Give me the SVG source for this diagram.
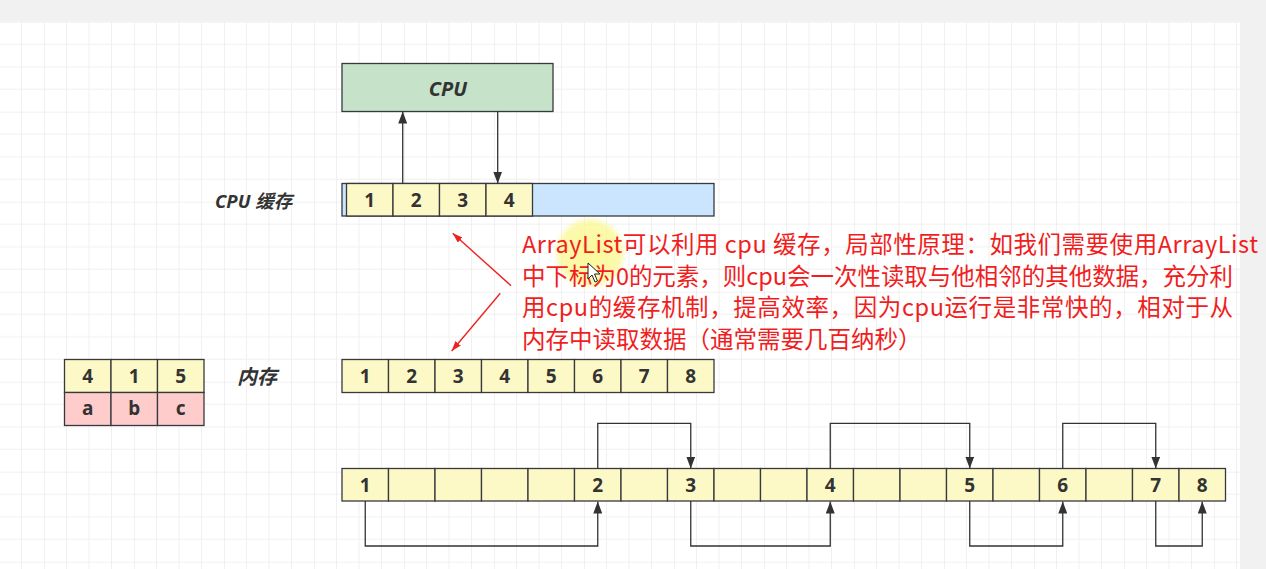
<svg xmlns="http://www.w3.org/2000/svg" width="1266" height="569" viewBox="0 0 1266 569">
<style>
.box{stroke:#36393d;stroke-width:1.3}
.y{fill:#fdf9c6}
.p{fill:#ffcccc}
.num{font-family:"Noto Sans","Liberation Sans",sans-serif;font-weight:700;font-size:19px;fill:#333333;text-anchor:middle;dominant-baseline:central}
.lbl{font-family:"Noto Sans","Noto Sans CJK SC",sans-serif;font-weight:700;font-style:italic;font-size:18.5px;fill:#333333}
.con{fill:none;stroke:#333333;stroke-width:1.3;marker-end:url(#ah)}
.red{fill:none;stroke:#ee2222;stroke-width:1.4;marker-end:url(#rh)}
.note{font-family:"Noto Sans CJK SC","Noto Sans",sans-serif;font-size:23.5px;fill:#f01e1e}
</style>
<defs>
<pattern id="grid" x="44" y="21.7" width="90" height="90" patternUnits="userSpaceOnUse">
<path d="M22.5 0V90M45 0V90M67.5 0V90M0 22.5H90M0 45H90M0 67.5H90" stroke="#f0f0f0" stroke-width="1" fill="none"/>
<path d="M0 0V90M0 0H90" stroke="#e4e4e4" stroke-width="1" fill="none"/>
</pattern>
<marker id="ah" markerUnits="userSpaceOnUse" markerWidth="12" markerHeight="9" refX="12" refY="4.5" orient="auto">
<path d="M0 0L12 4.5L0 9Z" fill="#333333"/>
</marker>
<marker id="rh" markerUnits="userSpaceOnUse" markerWidth="10" markerHeight="7" refX="10" refY="3.5" orient="auto">
<path d="M0 0L10 3.5L0 7Z" fill="#ee2222"/>
</marker>
<radialGradient id="hl" cx="0.5" cy="0.5" r="0.5">
<stop offset="0" stop-color="#fbf78a" stop-opacity="0.85"/>
<stop offset="0.8" stop-color="#fbf78a" stop-opacity="0.7"/>
<stop offset="1" stop-color="#fbf78a" stop-opacity="0"/>
</radialGradient>
</defs>

<rect x="0" y="0" width="1266" height="569" fill="#f1f1f1"/>
<rect x="0" y="21.7" width="1240" height="548" fill="#ffffff"/>
<rect x="0" y="21.7" width="1240" height="548" fill="url(#grid)"/>

<g id="cpu">
<rect class="box" x="342" y="63.5" width="211" height="48" fill="#c6e2c9"/>
<text x="448" y="88" class="lbl" style="font-size:20px" text-anchor="middle" dominant-baseline="central">CPU</text>
</g>

<g id="cpu-cache-label">
<text x="215" y="208" class="lbl">CPU 缓存</text>
</g>

<g id="cpu-cache">
<rect class="box" x="342" y="183.5" width="372" height="32.5" fill="#cce5ff"/>
<rect class="box y" x="346.5" y="183.5" width="46.5" height="32.5"/>
<rect class="box y" x="393" y="183.5" width="46.5" height="32.5"/>
<rect class="box y" x="439.5" y="183.5" width="46.5" height="32.5"/>
<rect class="box y" x="486" y="183.5" width="46.5" height="32.5"/>
<text class="num" x="369.75" y="200">1</text>
<text class="num" x="416.25" y="200">2</text>
<text class="num" x="462.75" y="200">3</text>
<text class="num" x="509.25" y="200">4</text>
</g>

<g id="memory-label">
<text x="237" y="384" class="lbl" style="font-size:20px">内存</text>
</g>

<g id="memory">
<rect class="box y" x="342" y="359.5" width="46.5" height="33"/>
<rect class="box y" x="388.5" y="359.5" width="46.5" height="33"/>
<rect class="box y" x="435" y="359.5" width="46.5" height="33"/>
<rect class="box y" x="481.5" y="359.5" width="46.5" height="33"/>
<rect class="box y" x="528" y="359.5" width="46.5" height="33"/>
<rect class="box y" x="574.5" y="359.5" width="46.5" height="33"/>
<rect class="box y" x="621" y="359.5" width="46.5" height="33"/>
<rect class="box y" x="667.5" y="359.5" width="46.5" height="33"/>
<text class="num" x="365.25" y="376">1</text>
<text class="num" x="411.75" y="376">2</text>
<text class="num" x="458.25" y="376">3</text>
<text class="num" x="504.75" y="376">4</text>
<text class="num" x="551.25" y="376">5</text>
<text class="num" x="597.75" y="376">6</text>
<text class="num" x="644.25" y="376">7</text>
<text class="num" x="690.75" y="376">8</text>
</g>

<g id="map-table">
<rect class="box y" x="64.5" y="359.5" width="46.5" height="33"/>
<rect class="box y" x="111" y="359.5" width="46.5" height="33"/>
<rect class="box y" x="157.5" y="359.5" width="46.5" height="33"/>
<rect class="box p" x="64.5" y="392.5" width="46.5" height="33"/>
<rect class="box p" x="111" y="392.5" width="46.5" height="33"/>
<rect class="box p" x="157.5" y="392.5" width="46.5" height="33"/>
<text class="num" x="87.75" y="376">4</text>
<text class="num" x="134.25" y="376">1</text>
<text class="num" x="180.75" y="376">5</text>
<text class="num" x="87.75" y="408">a</text>
<text class="num" x="134.25" y="408">b</text>
<text class="num" x="180.75" y="408">c</text>
</g>

<g id="linked-memory">
<rect class="box y" x="342" y="468.5" width="46.5" height="32.5"/>
<rect class="box y" x="388.5" y="468.5" width="46.5" height="32.5"/>
<rect class="box y" x="435" y="468.5" width="46.5" height="32.5"/>
<rect class="box y" x="481.5" y="468.5" width="46.5" height="32.5"/>
<rect class="box y" x="528" y="468.5" width="46.5" height="32.5"/>
<rect class="box y" x="574.5" y="468.5" width="46.5" height="32.5"/>
<rect class="box y" x="621" y="468.5" width="46.5" height="32.5"/>
<rect class="box y" x="667.5" y="468.5" width="46.5" height="32.5"/>
<rect class="box y" x="714" y="468.5" width="46.5" height="32.5"/>
<rect class="box y" x="760.5" y="468.5" width="46.5" height="32.5"/>
<rect class="box y" x="807" y="468.5" width="46.5" height="32.5"/>
<rect class="box y" x="853.5" y="468.5" width="46.5" height="32.5"/>
<rect class="box y" x="900" y="468.5" width="46.5" height="32.5"/>
<rect class="box y" x="946.5" y="468.5" width="46.5" height="32.5"/>
<rect class="box y" x="993" y="468.5" width="46.5" height="32.5"/>
<rect class="box y" x="1039.5" y="468.5" width="46.5" height="32.5"/>
<rect class="box y" x="1086" y="468.5" width="46.5" height="32.5"/>
<rect class="box y" x="1132.5" y="468.5" width="46.5" height="32.5"/>
<rect class="box y" x="1179" y="468.5" width="46.5" height="32.5"/>
<text class="num" x="365.25" y="485">1</text>
<text class="num" x="597.75" y="485">2</text>
<text class="num" x="690.75" y="485">3</text>
<text class="num" x="830.25" y="485">4</text>
<text class="num" x="969.75" y="485">5</text>
<text class="num" x="1062.75" y="485">6</text>
<text class="num" x="1155.75" y="485">7</text>
<text class="num" x="1202.25" y="485">8</text>
</g>

<g id="connectors">
<path class="con" d="M402.7 183.5V111.5"/>
<path class="con" d="M497.7 111.5V183.5"/>
<path class="con" d="M365.25 501V546H597.75V501.5"/>
<path class="con" d="M597.75 468.5V423.3H690.75V468.5"/>
<path class="con" d="M690.75 501V546H830.25V501.5"/>
<path class="con" d="M830.25 468.5V423.3H969.75V468.5"/>
<path class="con" d="M969.75 501V546H1062.75V501.5"/>
<path class="con" d="M1062.75 468.5V423.3H1155.75V468.5"/>
<path class="con" d="M1155.75 501V546H1202.25V501.5"/>
<path class="red" d="M511 285.7L452.7 233.3"/>
<path class="red" d="M500.3 293.3L451.7 351"/>
</g>

<g id="highlight">
<circle cx="590" cy="253" r="37" fill="url(#hl)"/>
</g>

<g id="note">
<text class="note" x="522" y="253" textLength="736">ArrayList可以利用 cpu 缓存，局部性原理：如我们需要使用ArrayList</text>
<text class="note" x="522" y="284.5" textLength="711">中下标为0的元素，则cpu会一次性读取与他相邻的其他数据，充分利</text>
<text class="note" x="522" y="316" textLength="711">用cpu的缓存机制，提高效率，因为cpu运行是非常快的，相对于从</text>
<text class="note" x="522" y="347.5">内存中读取数据（通常需要几百纳秒）</text>
</g>

<g id="cursor">
<path d="M588 263L588 279L592 275L595 282L597.5 281L594.5 274L600 274Z" fill="#ffffff" stroke="#222222" stroke-width="1"/>
</g>
</svg>
